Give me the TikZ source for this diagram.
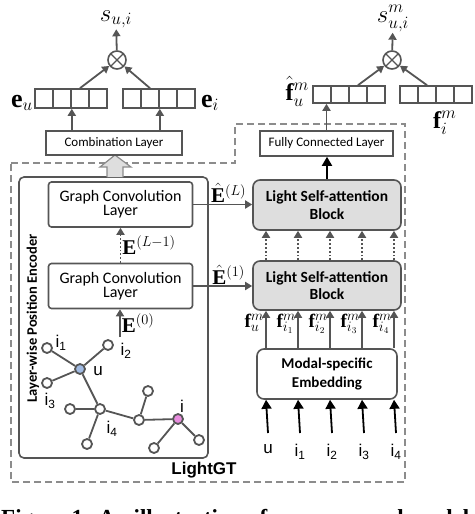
\documentclass[tikz,border=0pt]{standalone}
\usepackage{fontspec}
\setmainfont{Liberation Serif}
\newfontfamily\boxfont{Carlito}
\newfontfamily\labfont{Liberation Sans}
\usetikzlibrary{arrows.meta, positioning, calc}
\definecolor{linegray}{RGB}{85,85,85}
\definecolor{dashgray}{RGB}{140,140,140}
\definecolor{blockfill}{RGB}{222,222,222}
\definecolor{ublue}{RGB}{160,186,226}
\definecolor{ipink}{RGB}{232,140,222}
\tikzset{
>={Triangle[width=8pt, length=7pt]}, % gray arrow heads
box/.style={draw=linegray, line width=1.6pt, inner sep=0pt, align=center, font=\boxfont\fontsize{13}{14}\selectfont}, % plain layer boxes
gcl/.style={box, rounded corners=3pt, minimum width=144pt, minimum height=45pt, font=\boxfont\fontsize{16}{12}\selectfont},
block/.style={box, fill=blockfill, rounded corners=7pt, font=\boxfont\bfseries\fontsize{15.5}{17.5}\selectfont},
cell/.style={draw=linegray, line width=1.6pt, minimum width=18pt, minimum height=19pt, inner sep=0pt}, % one entry of a vector
otimes/.style={circle, draw=linegray, line width=1.6pt, minimum size=18pt, inner sep=0pt,
  path picture={\draw[linegray, line width=1.4pt] (path picture bounding box.north west) -- (path picture bounding box.south east)
  (path picture bounding box.north east) -- (path picture bounding box.south west);}},
conn/.style={->, draw=linegray, line width=1.8pt},
dotconn/.style={conn, dotted},
feed/.style={-{Triangle[width=10pt, length=9pt]}, draw=black, line width=1.8pt}, % black input arrows
vtx/.style={circle, draw=linegray, line width=1.8pt, minimum size=10pt, inner sep=0pt, fill=white},
graphline/.style={draw=linegray, line width=1.8pt},
mlab/.style={inner sep=1pt, font=\fontsize{26}{26}\selectfont},
slab2/.style={inner sep=1pt, font=\fontsize{24}{24}\selectfont},
elab/.style={inner sep=1pt, font=\fontsize{21}{21}\selectfont},
flab/.style={inner sep=0pt, font=\fontsize{19}{19}\selectfont},
slab/.style={inner sep=0pt, font=\labfont\fontsize{17}{17}\selectfont},
}

\begin{document}
\begin{tikzpicture}[x=1pt, y=-1pt]
\useasboundingbox (0,0) rectangle (474,514);

% outer dashed frame of LightGT
\draw[dashgray, line width=2.2pt, dash pattern=on 7pt off 4pt]
  (11,163) -- (235,163) -- (235,124) -- (405,124) -- (405,482) -- (11,482) -- cycle;

% position encoder frame and the block arrow to the combination layer
\node[draw=linegray, line width=1.6pt, rounded corners=5pt, minimum width=189pt, minimum height=281pt] (enc) at (113.5,317.5) {};
\draw[draw=dashgray, fill=blockfill, line width=1.2pt]
  (107,177) -- (107,167) -- (100,167) -- (115,155) -- (131,167) -- (123,167) -- (123,177);
\node[rotate=90, inner sep=0pt, font=\boxfont\bfseries\fontsize{14.5}{15}\selectfont] (enclab) at (33,318.5) {Layer-wise Position Encoder};
\node[inner sep=0pt, font=\labfont\bfseries\fontsize{17}{17}\selectfont] (gt) at (204,470) {LightGT};

% vectors
\foreach \k in {1,...,4} {
  \node[cell] (eu\k) at (26+18*\k, 98.5) {};
  \node[cell] (ei\k) at (114+18*\k, 98.5) {};
  \node[cell, minimum height=17pt] (fu\k) at (304+18*\k, 94.5) {};
  \node[cell, minimum height=17pt] (fi\k) at (391+18*\k, 94.5) {};
}
\node[mlab, anchor=base east] (eulab) at (34,107) {$\mathbf{e}_u$};
\node[mlab, anchor=base west] (eilab) at (200,107) {$\mathbf{e}_i$};
\node[slab2, anchor=base east] (fulab) at (310,100) {$\hat{\mathbf{f}}^m_u$};
\node[slab2, anchor=base west] (filab) at (432,128) {$\mathbf{f}^m_i$};

% scores
\node[otimes] (prod1) at (117,60) {};
\node[otimes] (prod2) at (392,60) {};
\node[slab2, anchor=base] (s1) at (116,21) {$s_{u,i}$};
\node[slab2, anchor=base] (s2) at (393,22) {$s^m_{u,i}$};
\draw[conn] (prod1) -- (s1);
\draw[conn] (prod2) -- (s2);
\draw[conn] (eu3.north) -- (prod1);
\draw[conn] (ei2.north) -- (prod1);
\draw[conn] (fu3.north) -- (prod2);
\draw[conn] (fi2.north) -- (prod2);

% layers
\node[box, minimum width=136pt, minimum height=24pt] (comb) at (114,143) {Combination Layer};
\node[box, minimum width=133pt, minimum height=25pt] (fc) at (326.5,143.5) {Fully Connected Layer};
\node[gcl] (gcl2) at (120.5,204.5) {Graph Convolution\\Layer};
\node[gcl] (gcl1) at (120.5,286) {Graph Convolution\\Layer};
\node[block, minimum width=148pt, minimum height=50pt] (lsa2) at (327,205) {Light Self-attention\\Block};
\node[block, minimum width=148pt, minimum height=49pt] (lsa1) at (327,285.5) {Light Self-attention\\Block};
\node[block, fill=white, font=\boxfont\bfseries\fontsize{15}{19.5}\selectfont, minimum width=140pt, minimum height=50pt] (emb) at (327,374) {Modal-specific\\Embedding};

\draw[conn] (comb.north -| eu2.east) -- (eu2.south east);
\draw[conn] (comb.north -| ei2.east) -- (ei2.south east);
\draw[conn] (fc.north) -- (fc.north |- fu1.south);
\draw[feed] (lsa2.north) -- (lsa2.north |- fc.south);

\coordinate (e0) at (120,337);
\draw[conn] (e0) -- (e0 |- gcl1.south) node[elab, midway, right] {$\mathbf{E}^{(0)}$};
\draw[dotconn] (gcl1.north) -- (gcl2.south) node[elab, midway, right] {$\mathbf{E}^{(L-1)}$};
\draw[conn] (gcl2.east) -- (gcl2.east -| lsa2.west) node[elab, pos=0.6, above] {$\hat{\mathbf{E}}^{(L)}$};
\draw[conn] (gcl1.east) -- (gcl1.east -| lsa1.west) node[elab, pos=0.6, above] {$\hat{\mathbf{E}}^{(1)}$};

% columns of the item sequence
\foreach \x [count=\i] in {266,298,330,362,394} \coordinate (col\i) at (\x,0);
\foreach \i/\s in {1/u, 2/i_1, 3/i_2, 4/i_3, 5/i_4} {
  \draw[dotconn] (col\i |- lsa1.north) -- (col\i |- lsa2.south);
  \draw[conn] (col\i |- emb.north) -- (col\i |- lsa1.south);
  \node[flab, anchor=base east] (f\i) at ($(col\i)+(-2,327)$) {$\mathbf{f}^m_{\s}$};
}
\foreach \i/\t in {1/u, 2/i\textsubscript{1}, 3/i\textsubscript{2}, 4/i\textsubscript{3}, 5/i\textsubscript{4}} {
  \node[slab, anchor=north] (in\i) at ($(col\i)+(2,444)$) {\t};
  \draw[feed] ($(in\i.north)+(0,-11)$) -- (col\i |- emb.south);
}

% graph
\node[vtx, fill=ublue] (vu) at (80,369) {};
\node[vtx] (vi1) at (47,348) {};
\node[vtx] (vi2) at (108,345) {};
\node[vtx] (vi3) at (47,383) {};
\node[vtx] (vi4) at (100,409) {};
\node[vtx] (va) at (70,409) {};
\node[vtx] (vb) at (87,444) {};
\node[vtx] (vc) at (139,420) {};
\node[vtx] (vd) at (148,391) {};
\node[vtx, fill=ipink] (vi) at (178,419) {};
\node[vtx] (ve) at (154,448) {};
\node[vtx] (vf) at (199,440) {};
\draw[graphline] (vu) -- (vi1) (vu) -- (vi2) (vu) -- (vi3) (vu) -- (vi4)
  (va) -- (vi4) (vi4) -- (vb) (vi4) -- (vc) (vc) -- (vd) (vc) -- (vi) (vi) -- (ve) (vi) -- (vf);
\node[slab] (lu) at (98,371) {u};
\node[slab] (li1) at (61,343) {i\textsubscript{1}};
\node[slab] (li2) at (126,351) {i\textsubscript{2}};
\node[slab] (li3) at (50,401) {i\textsubscript{3}};
\node[slab] (li4) at (112,429) {i\textsubscript{4}};
\node[slab] (li) at (182,406) {i};

% caption, cut by the page edge
\node[anchor=base west, inner sep=0pt, font=\bfseries\fontsize{23}{23}\selectfont] (cap) at (1,525.5) {Figure 1: An illustration of our proposed model LightGT};
\end{tikzpicture}
\end{document}
